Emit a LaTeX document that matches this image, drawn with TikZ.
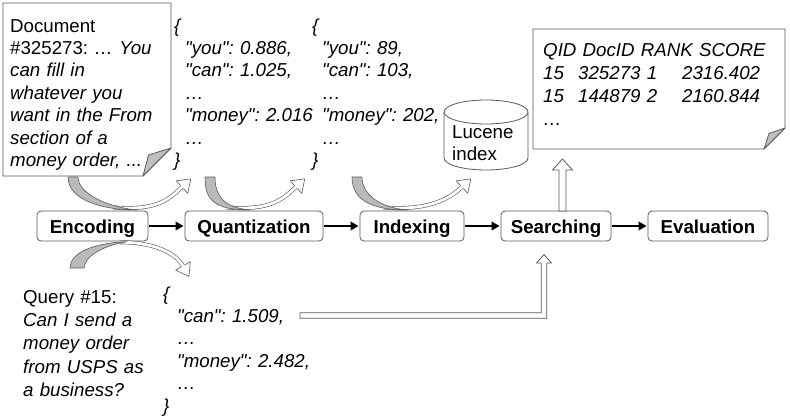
\documentclass[tikz,border=0pt]{standalone}
\usepackage{fontspec}
\setmainfont{Liberation Sans}[Ligatures=TeXOff]
\usetikzlibrary{arrows.meta,decorations.markings}
\frenchspacing
\newcommand\mkupcurve[3]{%
  \draw[band] ({#2-24},207.4) .. controls ({#2+20},210.8) and ({#3-14},200) .. (#3,187);
  \path[headmark] ({#2-24},207.4) .. controls ({#2+20},210.8) and ({#3-14},200) .. (#3,187);
  \draw[crescent] (#1,177) .. controls (#1,199) and ({#2-37},210) .. (#2,210)
     .. controls ({#2-28},207.5) and ({#1+10},194) .. ({#1+10},177) -- cycle;
}
\begin{document}
\begin{tikzpicture}[x=1pt,y=-1pt,line join=round,
  txt/.style={inner sep=0pt, anchor=base west, align=left, text width=250pt,
    font=\fontsize{18.7}{22.45}\selectfont},
  stage/.style={draw=black!65, fill=white, line width=0.8pt, rounded corners=4pt,
    minimum height=30pt, inner sep=0pt, text height=14pt, text depth=0pt,
    font=\bfseries\fontsize{18.7}{22}\selectfont},
  flow/.style={line width=2.2pt, -{Triangle[length=8pt,width=8.5pt]},
    shorten >=1pt, shorten <=1pt},
  note/.style={draw=black!65, line width=0.8pt, fill=white},
  fold/.style={draw=black!65, line width=0.8pt, fill=black!25},
  band/.style={draw=black!65, line width=0.6pt, double=white, double distance=2.8pt},
  crescent/.style={draw=black!65, line width=0.6pt, fill=black!27},
  hollow/.style={draw=black!65, line width=0.8pt, fill=white},
  headmark/.style={decoration={markings, mark=at position 0.999 with {
      \fill[white] (0,-8.5) -- (12,0) -- (0,8.5) -- cycle;
      \draw[draw=black!65, line width=0.6pt] (0,-2) -- (0,-8.5) -- (12,0) -- (0,8.5) -- (0,2);}},
    decorate}
]
\useasboundingbox[fill=white] (0,0) rectangle (790,418);

% document note
\draw[note] (3,3) -- (171,3) -- (171,148) -- (143,176) -- (3,176) -- cycle;
\draw[fold] (143,176) -- (171,148) -- (148.5,155) -- cycle;
\node[txt] (doc) at (10,32) {Document\\
  \#325273: \textit{… You}\\
  \textit{can fill in}\\
  \textit{whatever you}\\
  \textit{want in the From}\\
  \textit{section of a}\\
  \textit{money order, ...}};

% json 1
\node[txt] (json1) at (174,32) {\itshape \{\\
  \hspace*{11pt}"you": 0.886,\\
  \hspace*{11pt}"can": 1.025,\\
  \hspace*{11pt}…\\
  \hspace*{11pt}"money": 2.016\\
  \hspace*{11pt}…\\
  \}};

% json 2
\node[txt] (json2) at (312,32) {\itshape \{\\
  \hspace*{10pt}"you": 89,\\
  \hspace*{10pt}"can": 103,\\
  \hspace*{10pt}…\\
  \hspace*{10pt}"money": 202,\\
  \hspace*{10pt}…\\
  \}};

% lucene cylinder
\draw[note] (444,112) -- (444,158) .. controls (444,164.6) and (462.8,170) .. (486,170)
  .. controls (509.2,170) and (528,164.6) .. (528,158) -- (528,112);
\draw[note] (486,112) ellipse [x radius=42, y radius=12];
\node[txt, font=\fontsize{18.7}{22}\selectfont] (lucene) at (452,138) {Lucene\\ index};

% result note
\draw[note] (533,29) -- (785,29) -- (785,128) -- (764,149) -- (533,149) -- cycle;
\draw[fold] (764,149) -- (785,128) -- (769,133.5) -- cycle;
\node[txt, font=\itshape\fontsize{18.7}{23}\selectfont] (res) at (543,56)
  {QID DocID RANK SCORE\\
   \makebox[35pt][l]{15}\makebox[104pt][l]{325273 1}2316.402\\
   \makebox[35pt][l]{15}\makebox[104pt][l]{144879 2}2160.844\\
   …};

% stages
\node[stage, minimum width=111pt] (enc) at (92.5,226) {Encoding};
\node[stage, minimum width=138pt] (quant) at (254,226) {Quantization};
\node[stage, minimum width=104pt] (idx) at (412,226) {Indexing};
\node[stage, minimum width=110pt] (search) at (556,226) {Searching};
\node[stage, minimum width=120pt] (eval) at (708,226) {Evaluation};
\draw[flow] (enc) -- (quant);
\draw[flow] (quant) -- (idx);
\draw[flow] (idx) -- (search);
\draw[flow] (search) -- (eval);

% curved arrows (upper)
\mkupcurve{68}{137}{182}
\mkupcurve{205}{250}{296}
\mkupcurve{352}{407}{462}

% curved arrow (lower)
\draw[band] (120,242.3) .. controls (152,242) and (175,252) .. (183,266);
\path[headmark] (120,242.3) .. controls (152,242) and (175,252) .. (183,266);
\draw[crescent] (127,241.6) .. controls (95,243) and (70,252) .. (70,268)
  -- (84,268) .. controls (85,257) and (100,246.5) .. (127,241.6) -- cycle;

% query
\node[txt, font=\fontsize{18.7}{23.4}\selectfont] (query) at (23,303) {Query \#15:\\
  \textit{Can I send a}\\
  \textit{money order}\\
  \textit{from USPS as}\\
  \textit{a business?}};
\node[txt] (json3) at (163,300) {\itshape \{\\
  \hspace*{14pt}"can": 1.509,\\
  \hspace*{14pt}…\\
  \hspace*{14pt}"money": 2.482,\\
  \hspace*{14pt}…\\
  \}};

% hollow straight arrows
\draw[hollow] (300,312.8) -- (541.2,312.8) -- (541.2,263) -- (536.5,263) -- (544,254.5)
  -- (551.5,263) -- (546.8,263) -- (546.8,318.2) -- (300,318.2) -- cycle;
\draw[hollow] (559,211) -- (559,170) -- (552.5,170) -- (562.5,159) -- (572.5,170)
  -- (566,170) -- (566,211) -- cycle;
\end{tikzpicture}
\end{document}
